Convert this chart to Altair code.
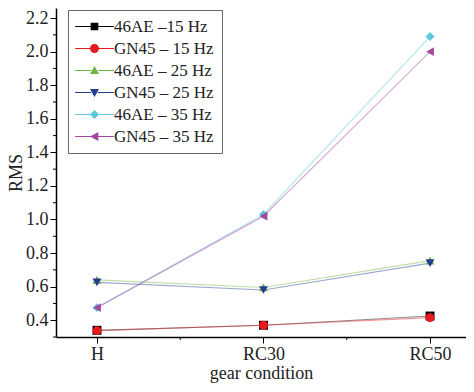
import altair as alt
import pandas as pd

conditions = ["H", "RC30", "RC50"]
series = ["46AE –15 Hz", "GN45 – 15 Hz", "46AE – 25 Hz", "GN45 – 25 Hz", "46AE – 35 Hz", "GN45 – 35 Hz"]
ae_15 = [0.34, 0.37, 0.425]
gn_15 = [0.338, 0.37, 0.415]
ae_25 = [0.64, 0.595, 0.755]
gn_25 = [0.625, 0.58, 0.74]
ae_35 = [0.475, 1.03, 2.09]
gn_35 = [0.475, 1.02, 2.0]
colors = ["#000000", "#e8191c", "#6cb33f", "#253c8f", "#5bc9d9", "#a6479f"]
shapes = ["square", "circle", "triangle-up", "triangle-down", "diamond", "triangle-left"]
y_major = [0.4, 0.6, 0.8, 1.0, 1.2, 1.4, 1.6, 1.8, 2.0, 2.2]
y_minor = [0.3, 0.5, 0.7, 0.9, 1.1, 1.3, 1.5, 1.7, 1.9, 2.1]
x_minor = [0.5, 1.5]

# legend glyphs: marker with a short line through it (unit-square path coords)
seg = "M-4.3,-0.1H-0.75V0.1H-4.3Z M0.75,-0.1H4.3V0.1H0.75Z "
marker_paths = [
    "M-0.85,-0.85H0.85V0.85H-0.85Z",
    "M-1,0A1,1 0 1,1 1,0A1,1 0 1,1 -1,0Z",
    "M0,-1L1,0.8H-1Z",
    "M0,1L1,-0.8H-1Z",
    "M0,-1L1,0L0,1L-1,0Z",
    "M-1,0L0.85,-1V1Z",
]
legend_shapes = [seg + p for p in marker_paths]

rows = []
for s, vals in zip(series, [ae_15, gn_15, ae_25, gn_25, ae_35, gn_35]):
    for i, (c, v) in enumerate(zip(conditions, vals)):
        rows.append({"series": s, "idx": i, "cond": c, "rms": v})
df = pd.DataFrame(rows)

FONT = "Liberation Serif"
W, H = 410, 329

xscale = alt.Scale(domain=[-0.246, 2.216], nice=False, zero=False)
yscale = alt.Scale(domain=[0.3, 2.26], nice=False, zero=False)

x_axis = alt.Axis(values=[0, 1, 2], title="gear condition",
                  labelExpr="datum.value == 0 ? 'H' : datum.value == 1 ? 'RC30' : 'RC50'",
                  grid=False, tickSize=6, labelPadding=2, titlePadding=1, labelOverlap=False)
y_axis = alt.Axis(values=y_major, title="RMS", format=".1f", grid=False, tickSize=6,
                  labelPadding=2, titlePadding=0, labelOverlap=False, labelBound=False)

cscale = alt.Scale(domain=series, range=colors)
sscale = alt.Scale(domain=series, range=shapes)
lscale = alt.Scale(domain=series, range=legend_shapes)

legend = alt.Legend(title=None, orient="none", legendX=12, legendY=2,
                    strokeColor="#666666", padding=8, labelFont=FONT, labelFontSize=17,
                    labelColor="#222222", symbolSize=81, rowPadding=4, symbolStrokeWidth=0,
                    fillColor="white", symbolOpacity=1, symbolOffset=10, labelOffset=11)

lines = alt.Chart(df).mark_line(strokeWidth=1.2, opacity=0.45).encode(
    x=alt.X("idx:Q", scale=xscale, axis=x_axis),
    y=alt.Y("rms:Q", scale=yscale, axis=y_axis),
    color=alt.Color("series:N", scale=cscale, legend=None),
    detail="series:N",
)

points = alt.Chart(df).mark_point(filled=True, size=80, opacity=1).encode(
    x=alt.X("idx:Q", scale=xscale, axis=x_axis),
    y=alt.Y("rms:Q", scale=yscale, axis=y_axis),
    color=alt.Color("series:N", scale=cscale, legend=None),
    shape=alt.Shape("series:N", scale=sscale, legend=None),
)

legend_layer = alt.Chart(df).mark_point(filled=True, size=81, opacity=0).encode(
    x=alt.X("idx:Q", scale=xscale, axis=x_axis),
    y=alt.Y("rms:Q", scale=yscale, axis=y_axis),
    color=alt.Color("series:N", scale=cscale, legend=legend),
    shape=alt.Shape("series:N", scale=lscale, legend=legend),
)

ymin_df = pd.DataFrame({"rms": y_minor})
ymin = alt.Chart(ymin_df).mark_rule(color="black", strokeWidth=1).encode(
    y=alt.Y("rms:Q", scale=yscale, axis=y_axis), x=alt.value(-3), x2=alt.value(0))
xmin_df = pd.DataFrame({"idx": x_minor})
xmin = alt.Chart(xmin_df).mark_rule(color="black", strokeWidth=1).encode(
    x=alt.X("idx:Q", scale=xscale, axis=x_axis), y=alt.value(H), y2=alt.value(H + 3))

chart = alt.layer(lines, ymin, xmin, points, legend_layer).resolve_scale(
    color="independent", shape="independent"
).properties(
    width=W, height=H,
    padding={"left": 48, "top": 0, "right": 0, "bottom": 47},
    autosize=alt.AutoSizeParams(type="none"),
).configure_view(stroke=None).configure_axis(
    domainColor="black", domainWidth=1.5, tickColor="black", tickWidth=1,
    labelFont=FONT, labelFontSize=18, labelColor="#222222",
    titleFont=FONT, titleFontSize=18, titleFontWeight="normal", titleColor="#222222",
)

chart.save("out.html", embed_options={"renderer": "svg", "actions": False})
